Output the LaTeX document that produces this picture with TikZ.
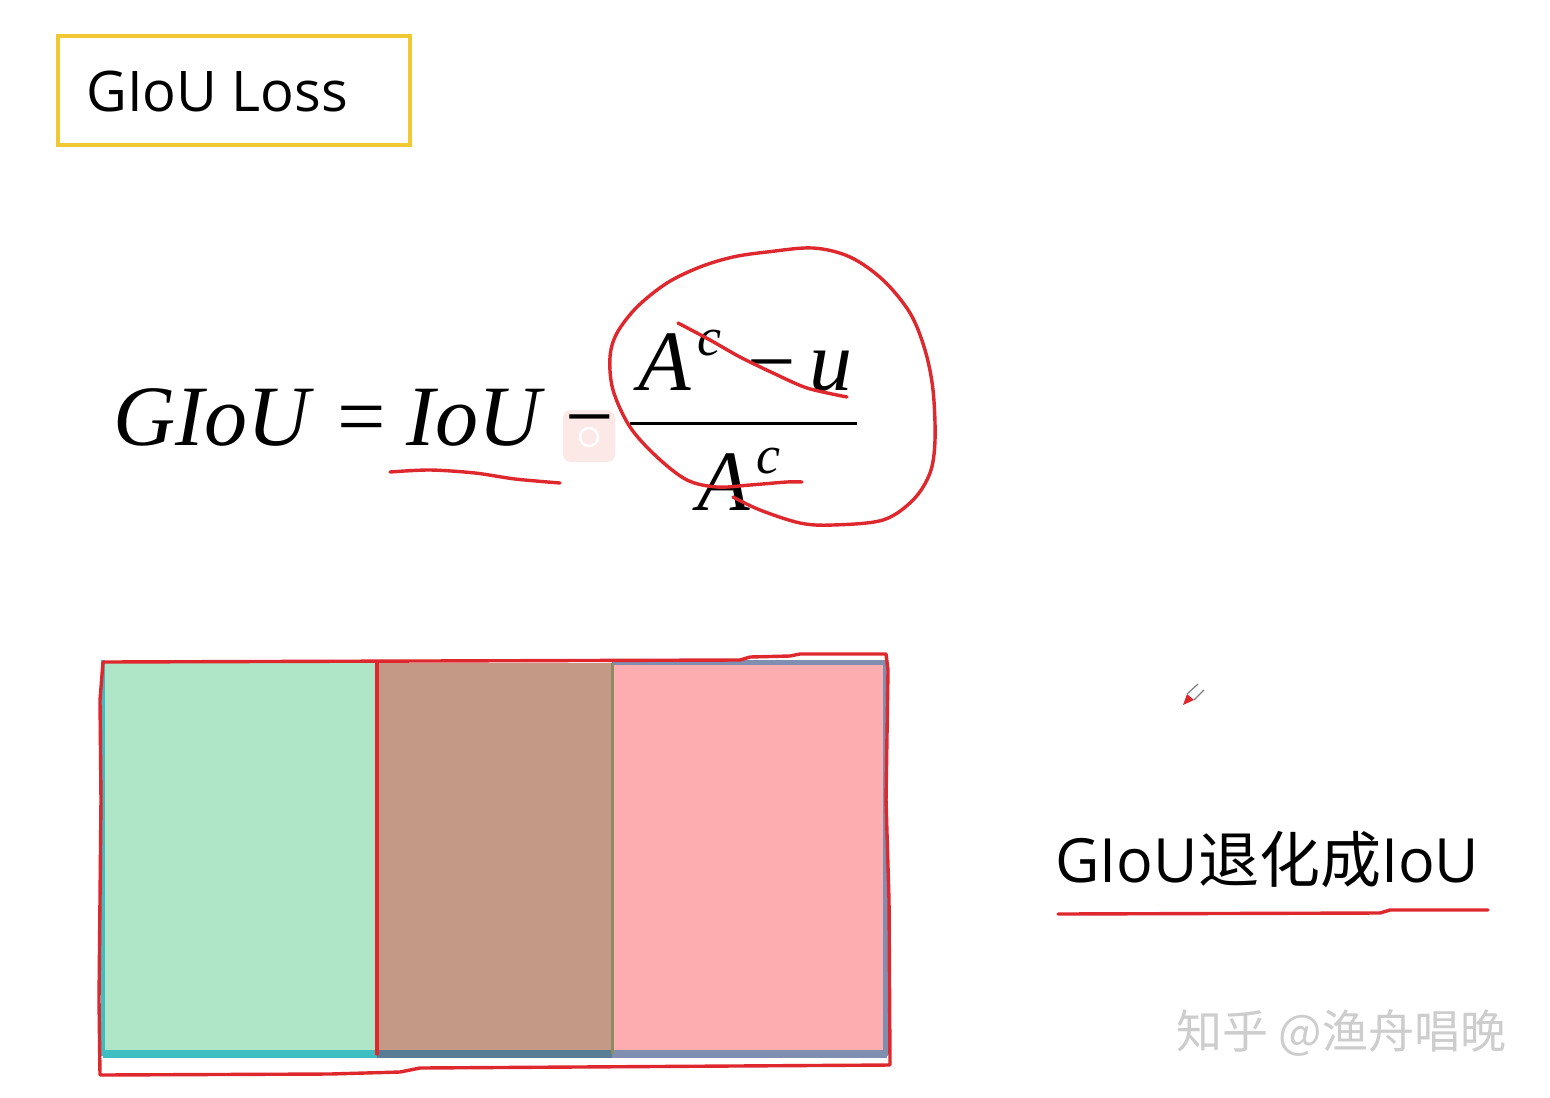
\documentclass[tikz,border=0pt]{standalone}
\usepackage{fontspec}
\setmainfont{Liberation Serif}
\newfontfamily\osans{Open Sans}
\newfontfamily\cjk{Noto Sans CJK SC}
\definecolor{gold}{RGB}{240,200,50}
\definecolor{inkred}{RGB}{222,40,45}
\definecolor{boxgreen}{RGB}{175,230,200}
\definecolor{boxbrown}{RGB}{196,154,135}
\definecolor{boxpink}{RGB}{253,173,176}
\definecolor{teal2}{RGB}{60,190,195}
\definecolor{slate}{RGB}{90,125,150}
\definecolor{slate2}{RGB}{128,143,176}
\definecolor{olive2}{RGB}{140,140,100}
\definecolor{iconpink}{RGB}{253,232,232}
\definecolor{wmgray}{RGB}{205,205,205}
\begin{document}
\begin{tikzpicture}[x=0.5pt,y=-0.5pt,
  ink/.style={draw=inkred, line width=1.7pt, line cap=round, line join=round},
  mtxt/.style={inner sep=0pt, anchor=base west, font=\fontsize{43}{50}\selectfont\itshape},
  mup/.style={inner sep=0pt, anchor=base, font=\fontsize{43}{50}\selectfont},
  msup/.style={inner sep=0pt, anchor=base west, font=\fontsize{27}{32}\selectfont\itshape},
  stxt/.style={inner sep=0pt, anchor=base west, font=\osans\fontsize{28}{34}\selectfont}]
\useasboundingbox (0,0) rectangle (1550,1097);
\fill[white] (0,0) rectangle (1550,1097);

% title box
\draw[draw=gold, line width=1.6pt] (58,36) rectangle (410,145);
\node[stxt] (title) at (86,112) {GIoU Loss};

% formula
\node[mtxt] (giou) at (113,445) {GIoU};
\node[mup] (eq) at (362,445) {=};
\node[mtxt] (iou) at (406,445) {IoU};
\fill[iconpink, rounded corners=4pt] (563,410) rectangle (615,462);
\draw[white, line width=1.2pt] (589,437) circle (9);
\node[mup] (minus) at (590,445) {−};
\draw[line width=1.5pt] (630,423) -- (857,423);
\node[mtxt] (na) at (638,390) {A};
\node[msup] (nc) at (697,355) {c};
\node[mup] (nminus) at (772,390) {−};
\node[mtxt] (nu) at (809,390) {u};
\node[mtxt] (da) at (697,510) {A};
\node[msup] (dc) at (756,473) {c};

% red annotations on formula
\draw[ink] plot[smooth] coordinates {(390,472) (430,470) (475,473) (515,479) (560,483)};
\draw[ink] plot[smooth] coordinates {(678,323) (710,340) (740,357) (773,373) (807,388) (847,397)};
\draw[ink] plot[smooth, tension=0.55] coordinates {(733,497) (760,510) (800,523) (833,525) (883,520) (913,500) (930,473) (935,440) (933,390) (925,350) (910,313) (883,280) (850,257) (813,248) (767,252) (733,257) (700,267) (667,283) (637,307) (617,333) (610,357) (613,390) (630,427) (657,457) (687,480) (717,487) (750,485) (787,482) (802,482)};

% boxes
\fill[boxgreen] (103,663) rectangle (377,1055);
\fill[boxbrown] (377,663) rectangle (612,1055);
\fill[boxpink] (612,663) rectangle (885,1055);
\draw[teal2, line width=4pt] (103,1054) -- (377,1054);
\draw[slate, line width=4pt] (377,1054) -- (612,1054);
\draw[slate2, line width=4pt] (612,1054) -- (887,1054);
\draw[slate2, line width=2.5pt] (885,660) -- (885,1056);
\draw[slate2, line width=2.5pt] (612,662) -- (885,662);
\draw[teal2, line width=2pt] (103,660) -- (103,1056);
\draw[olive2, line width=1.5pt] (612,663) -- (612,1054);
\draw[ink] (377,663) -- (377,1054);
\draw[ink] (103,662) -- (740,660) -- (750,657) -- (790,656) -- (800,654) -- (886,654) -- (888,670) -- (886,800) -- (889,900) -- (890,1065) -- (420,1068) -- (400,1072) -- (330,1074) -- (100,1075) -- (99,1000) -- (101,800) -- (100,700) -- cycle;

% pen cursor
\fill[inkred] (1183,705) -- (1187,694) -- (1194,700) -- cycle;
\draw[gray, line width=0.6pt] (1187,694) -- (1198,684) (1194,700) -- (1204,690);

% right text
\node[inner sep=0pt, anchor=base west, font=\fontsize{30.5}{36}\selectfont] (deg) at (1055,882)
  {\osans GIoU\cjk 退化成\osans IoU};
\draw[ink] (1058,914) -- (1380,913) -- (1390,910) -- (1488,910);

% watermark
\node[inner sep=0pt, anchor=base west, text=wmgray, font=\cjk\fontsize{23}{28}\selectfont] (wm) at (1176,1048) {知乎 @渔舟唱晚};
\end{tikzpicture}
\end{document}
